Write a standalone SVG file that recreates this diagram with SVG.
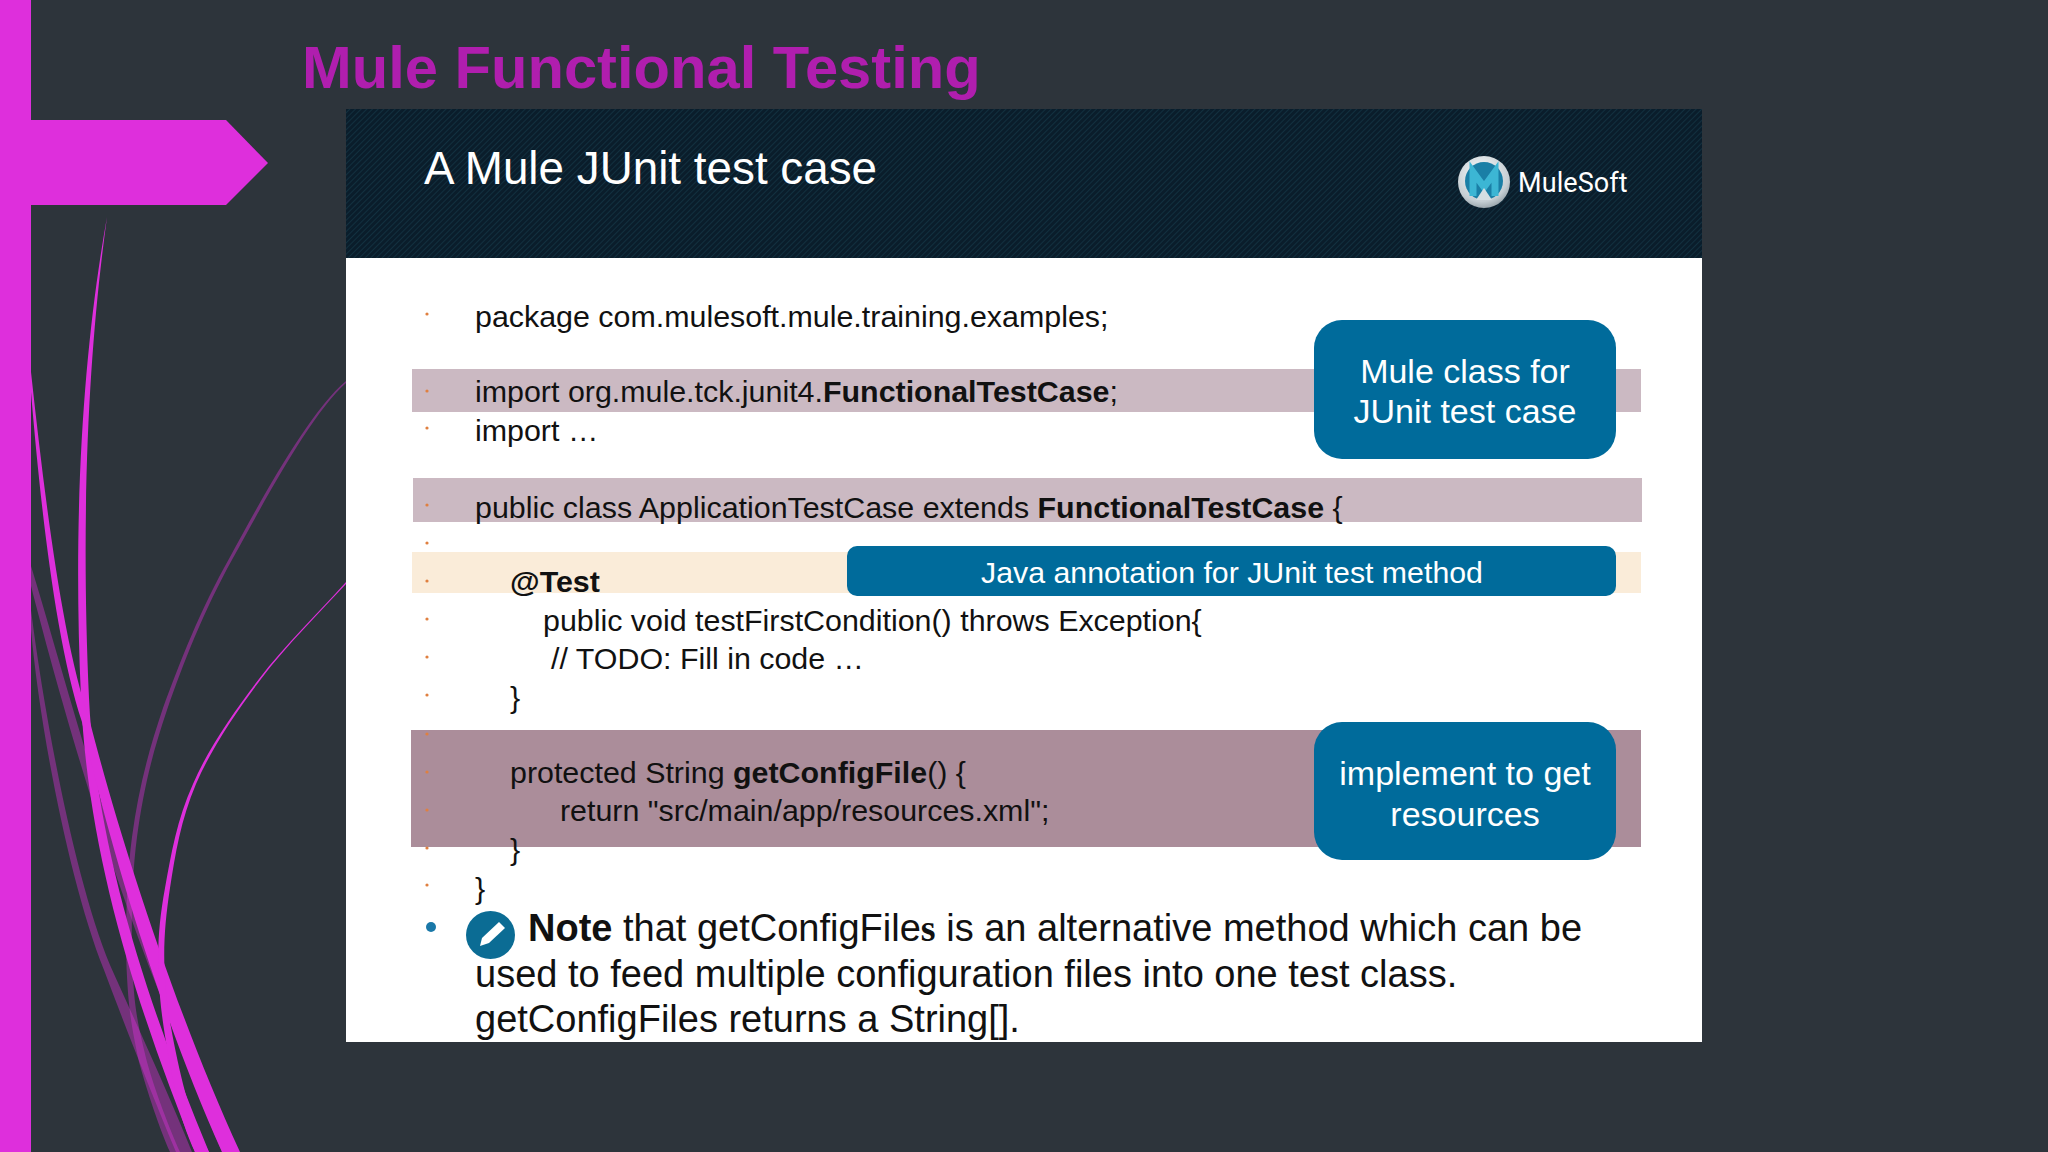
<svg xmlns="http://www.w3.org/2000/svg" width="2048" height="1152" viewBox="0 0 2048 1152">
<defs>
<pattern id="hatch" width="4" height="4" patternUnits="userSpaceOnUse" patternTransform="rotate(45)"><rect width="4" height="4" fill="#0a1d2b"/><rect width="1" height="4" fill="#12303f"/></pattern>
<radialGradient id="ball" cx="0.45" cy="0.35" r="0.75"><stop offset="0" stop-color="#ffffff"/><stop offset="0.7" stop-color="#c5ced3"/><stop offset="1" stop-color="#7d8a92"/></radialGradient>
</defs>
<style>
text{font-family:"Liberation Sans",Arial,sans-serif}
.code{font-size:30.4px;fill:#111}
.note{font-size:38px;fill:#111}
.lbl{font-size:34px;fill:#fff;text-anchor:middle}
.bright{fill:#de2fdc}
.dim{fill:#de2fdc;opacity:.4}
.dot{fill:#e08040}
.box{fill:#006b9b}
</style>
<rect width="2048" height="1152" fill="#2d343b"/>
<g id="ornament">
<path class="dim" d="M346,383 C310,415 263,504 233,558 C203,612 183,664 167,710 C151,757 143,793 137,837 C131,882 131,940 133,977 C135,1015 140,1033 147,1062 C155,1091 170,1130 180,1152 L170,1152 C160,1130 147,1091 139,1062 C133,1033 129,1015 127,977 C125,940 126,882 132,837 C138,793 147,755 163,708 C180,662 200,610 230,557 C260,502 308,413 346,381Z"/>
<path class="dim" d="M31,566 C60,660 110,850 167,989 C190,1045 210,1100 232,1152 L222,1152 C200,1100 180,1048 159,992 C104,855 55,680 31,586Z"/>
<path class="dim" d="M31,610 C45,720 75,880 110,965 C130,1010 165,1085 192,1152 L176,1152 C150,1090 122,1018 104,970 C70,885 40,730 31,630Z"/>
<path class="bright" d="M107,217 C90,340 80,500 89,698 C96,850 150,1010 209,1152 L195,1152 C140,1015 88,860 81,698 C72,500 85,340 107,217Z"/>
<path class="bright" d="M31,372 C45,500 62,640 90,722 C115,820 170,1000 240,1152 L222,1152 C158,1010 105,830 82,722 C55,640 40,500 31,392Z"/>
<path class="bright" d="M346,584 C320,612 286,646 261,679 C236,712 211,749 196,784 C181,819 175,855 170,888 C165,921 163,947 165,980 C167,1013 176,1055 183,1084 C190,1113 200,1135 209,1152 L195,1152 C187,1135 179,1113 174,1084 C168,1055 160,1013 159,980 C157,947 159,921 165,888 C171,855 177,819 193,784 C208,749 233.500,712 259,679 C284,646 319,612 346,582Z"/>
<rect class="bright" x="0" y="0" width="31" height="1152"/>
<path class="bright" d="M31,120 H226 L268,163 L226,205 H31Z"/>
</g>
<text x="302" y="88" font-weight="bold" fill="#b01eae" style="font-size:59.7px">Mule Functional Testing</text>
<g id="slide">
<rect x="346" y="109" width="1356" height="933" fill="#fff"/>
<rect x="346" y="109" width="1356" height="149" fill="url(#hatch)"/>
<text x="424" y="184" style="font-size:45.800px" fill="#fff">A Mule JUnit test case</text>
<g id="logo">
<circle cx="1484" cy="182" r="26" fill="url(#ball)"/>
<circle cx="1484" cy="181" r="19" fill="#1a7fa6"/>
<path d="M1473,196 V172 L1484,187 L1495,172 V196" fill="none" stroke="#3cb6d4" stroke-width="7"/>
<path d="M1476,200 L1484,188 L1492,200Z" fill="#d5dee2"/>
<text x="1518" y="192" style="font-family:'Roboto',sans-serif;font-size:27px;letter-spacing:.1px" fill="#fff">MuleSoft</text>
</g>
<rect x="412" y="369" width="1229" height="43" fill="#cbb9c2"/>
<rect x="413" y="478" width="1229" height="44" fill="#cbb9c2"/>
<rect x="412" y="552" width="1229" height="41" fill="#faecd9"/>
<rect x="411" y="730" width="1230" height="117" fill="#ab8d9a"/>
<g id="dots">
<circle class="dot" cx="427" cy="314" r="1.6"/><circle class="dot" cx="427" cy="391" r="1.6"/><circle class="dot" cx="427" cy="428" r="1.6"/><circle class="dot" cx="427" cy="505" r="1.6"/><circle class="dot" cx="427" cy="543" r="1.6"/><circle class="dot" cx="427" cy="581" r="1.6"/><circle class="dot" cx="427" cy="619" r="1.6"/><circle class="dot" cx="427" cy="657" r="1.6"/><circle class="dot" cx="427" cy="695" r="1.6"/><circle class="dot" cx="427" cy="734" r="1.6"/><circle class="dot" cx="427" cy="772" r="1.6"/><circle class="dot" cx="427" cy="810" r="1.6"/><circle class="dot" cx="427" cy="848" r="1.6"/><circle class="dot" cx="427" cy="885" r="1.6"/>
</g>
<text class="code" x="475" y="327">package com.mulesoft.mule.training.examples;</text>
<text class="code" x="475" y="402">import org.mule.tck.junit4.<tspan font-weight="bold">FunctionalTestCase</tspan>;</text>
<text class="code" x="475" y="441">import …</text>
<text class="code" x="475" y="518">public class ApplicationTestCase extends <tspan font-weight="bold">FunctionalTestCase</tspan> {</text>
<text class="code" x="510" y="592" font-weight="bold">@Test</text>
<text class="code" x="543" y="631">public void testFirstCondition() throws Exception{</text>
<text class="code" x="551" y="669">// TODO: Fill in code …</text>
<text class="code" x="510" y="708">}</text>
<text class="code" x="510" y="783">protected String <tspan font-weight="bold">getConfigFile</tspan>() {</text>
<text class="code" x="560" y="821">return "src/main/app/resources.xml";</text>
<text class="code" x="510" y="860">}</text>
<text class="code" x="475" y="899">}</text>
<g id="callout-class"><rect class="box" x="1314" y="320" width="302" height="139" rx="28"/><text class="lbl" x="1465" y="383">Mule class for</text><text class="lbl" x="1465" y="423">JUnit test case</text></g>
<g id="callout-annotation"><rect class="box" x="847" y="546" width="769" height="50" rx="10"/><text class="lbl" x="1232" y="583" style="font-size:30.3px">Java annotation for JUnit test method</text></g>
<g id="callout-resources"><rect class="box" x="1314" y="722" width="302" height="138" rx="28"/><text class="lbl" x="1465" y="785">implement to get</text><text class="lbl" x="1465" y="826">resources</text></g>
<circle cx="431" cy="927" r="5" fill="#1a78a8"/>
<g id="note-icon"><ellipse cx="490.500" cy="935" rx="24.500" ry="24" fill="#0b6c94"/><path d="M499,922 L505,928 L489,943 L480,946 L482,938Z" fill="#fff"/></g>
<text class="note" x="528" y="941"><tspan font-weight="bold">Note</tspan> that getConfigFile<tspan style="font-family:'Liberation Serif',serif" font-weight="bold">s</tspan> is an alternative method which can be</text>
<text class="note" x="475" y="987">used to feed multiple configuration files into one test class.</text>
<text class="note" x="475" y="1032">getConfigFiles returns a String[].</text>
</g>
</svg>
